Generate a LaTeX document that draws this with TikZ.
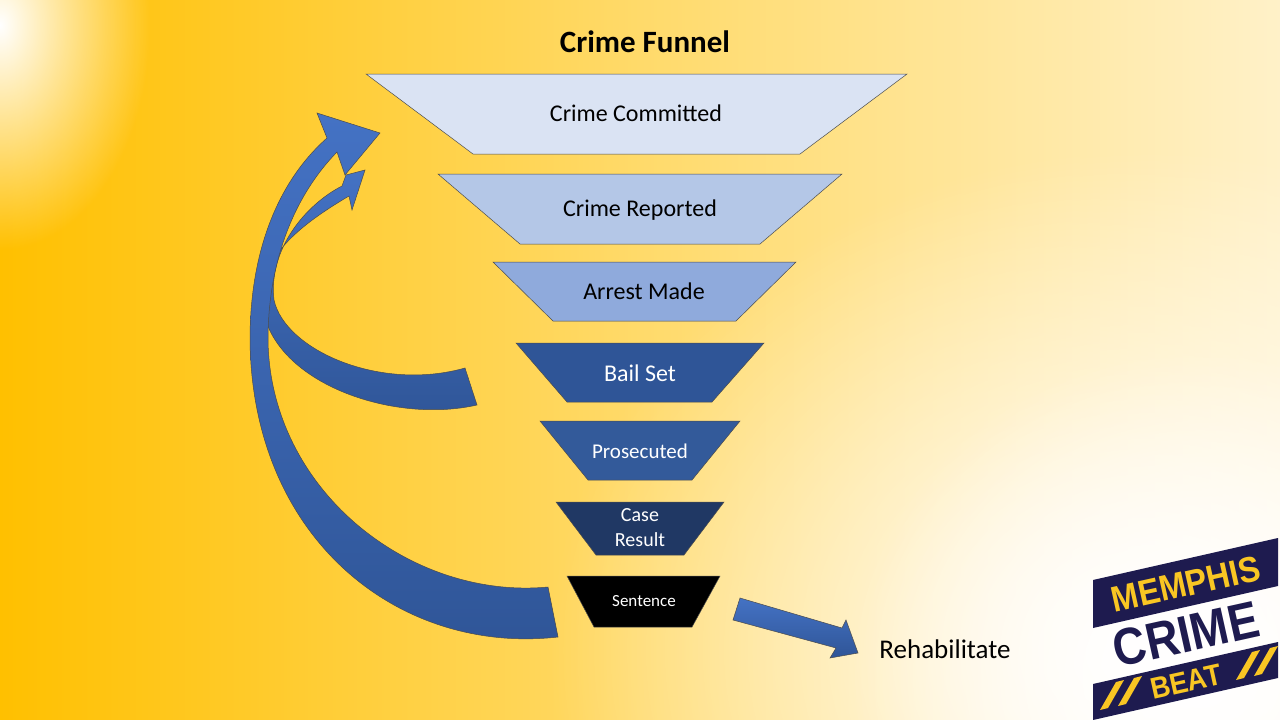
\documentclass[tikz,border=0pt]{standalone}
\usepackage{fontspec}
\setmainfont{Carlito}
\newfontfamily\logofont{Liberation Sans}
\usetikzlibrary{fadings}
\tikzfading[name=softc, inner color=transparent!0, outer color=transparent!100]
\definecolor{bgor}{HTML}{FFC000}
\definecolor{bgm}{HTML}{FFDA6A}
\definecolor{bgl}{HTML}{FFF1C8}
\definecolor{fA}{HTML}{DAE3F3}
\definecolor{fB}{HTML}{B4C7E7}
\definecolor{fC}{HTML}{8FAADC}
\definecolor{fD}{HTML}{2F5597}
\definecolor{fE}{HTML}{335A9A}
\definecolor{fF}{HTML}{203864}
\definecolor{arr}{HTML}{4472C4}
\definecolor{arrd}{HTML}{2F5597}
\definecolor{navy}{HTML}{1E1B4F}
\definecolor{lyel}{HTML}{F9C623}
\tikzset{
 trap/.style={draw=black!70, line width=0.5pt},
 lab/.style={font=\fontsize{24}{27}\selectfont, align=center},
 barrow/.style={draw=black!70, line width=0.5pt, top color=arr, bottom color=arrd},
}
\begin{document}
\begin{tikzpicture}[x=1pt,y=-1pt]
\useasboundingbox (0,0) rectangle (1280,720);
% background
\shade[shading angle=110, left color=bgor, right color=bgl, middle color=bgm] (0,0) rectangle (1280,720);
\fill[white, path fading=softc] (550,150) rectangle (1750,1150);
\fill[white, path fading=softc] (850,350) rectangle (1550,1000);
\fill[white, path fading=softc] (-150,-200) rectangle (150,250);
% title
\node[font=\fontsize{31}{34}\selectfont\bfseries] (title) at (645,42) {Crime Funnel};
% trapezoids
\draw[trap, fill=fA] (366,74) -- (907,74) -- (800,154) -- (473,154) -- cycle;
\node[lab] (t1) at (636,113) {Crime Committed};
\draw[trap, fill=fB] (438,174) -- (842,174) -- (760,244) -- (520,244) -- cycle;
\node[lab] (t2) at (640,210) {Crime Reported};
\draw[trap, fill=fC] (493,262) -- (796,262) -- (736,321) -- (553,321) -- cycle;
\node[lab] (t3) at (644,291) {Arrest Made};
\draw[trap, fill=fD] (516,343) -- (764,343) -- (712,402) -- (567,402) -- cycle;
\node[lab, text=white] (t4) at (640,373) {Bail Set};
\draw[trap, fill=fE] (540,421) -- (740,421) -- (692,480) -- (588,480) -- cycle;
\node[lab, text=white, font=\fontsize{21}{23}\selectfont] (t5) at (640,451) {Prosecuted};
\draw[trap, fill=fF] (556,502) -- (724,502) -- (684,555) -- (596,555) -- cycle;
\node[lab, text=white, font=\fontsize{20}{25}\selectfont] (t6) at (640,528) {Case\\Result};
\draw[trap, fill=black] (567,576) -- (720,576) -- (692,627) -- (594,627) -- cycle;
\node[lab, text=white, font=\fontsize{17}{19}\selectfont] (t7) at (644,601) {Sentence};
% curved arrows
\draw[barrow] (465,368) .. controls (380,392) and (285,350) .. (274,300)
  .. controls (268,250) and (305,205) .. (342,186) -- (346,175) -- (365,170) -- (352,210) -- (349,196)
  .. controls (305,222) and (260,255) .. (262,300)
  .. controls (266,380) and (390,425) .. (477,405) -- cycle;
\draw[barrow] (558,637) .. controls (400,655) and (252,540) .. (250,340)
  .. controls (250,240) and (285,175) .. (327,138) -- (317,113) -- (380,133) -- (345,175) -- (337,152)
  .. controls (295,195) and (268,260) .. (268,340)
  .. controls (270,490) and (410,600) .. (548,587) -- cycle;
% sentence arrow
\draw[barrow] (740,598) -- (842,628) -- (846,620) -- (858,653) -- (830,658) -- (836,648) -- (733,620) -- cycle;
\node[font=\fontsize{27}{29}\selectfont] (reh) at (945,649) {Rehabilitate};
% logo
\fill[navy] (1093,580) -- (1278,538) -- (1278,586) -- (1093,628) -- cycle;
\node[rotate=12.5, text=lyel, font=\logofont\bfseries\fontsize{36}{38}\selectfont, xscale=0.9, inner sep=0pt] (mem) at (1186,584) {MEMPHIS};
\node[rotate=12.5, text=navy, font=\logofont\bfseries\fontsize{52}{54}\selectfont, xscale=0.88, inner sep=0pt] (crime) at (1186,634) {CRIME};
\fill[navy] (1093,684) -- (1278,642) -- (1278,678) -- (1093,720) -- cycle;
\node[rotate=12.5, text=lyel, font=\logofont\bfseries\fontsize{30}{32}\selectfont, xscale=0.9, inner sep=0pt] (beat) at (1186,682) {BEAT};
\fill[lyel] (1100,710) -- (1116,682) -- (1124,680) -- (1108,708) -- cycle;
\fill[lyel] (1118,706) -- (1134,678) -- (1142,676) -- (1126,704) -- cycle;
\fill[lyel] (1236,680) -- (1252,652) -- (1260,650) -- (1244,678) -- cycle;
\fill[lyel] (1254,676) -- (1270,648) -- (1278,646) -- (1262,674) -- cycle;
\end{tikzpicture}
\end{document}
